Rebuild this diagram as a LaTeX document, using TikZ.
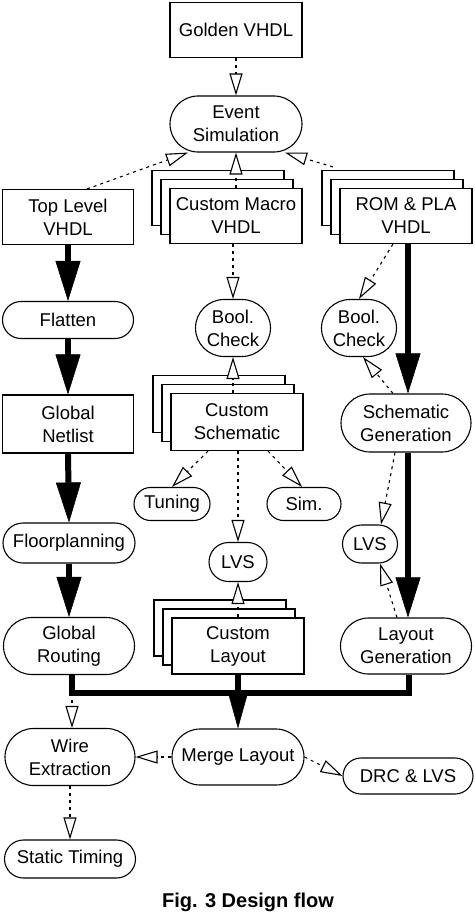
\documentclass[tikz,border=0pt]{standalone}
\usepackage{fontspec}
\setmainfont{Liberation Sans}
\usetikzlibrary{arrows.meta,shadows,shapes.misc}
\begin{document}
\begin{tikzpicture}[x=1pt,y=-1pt, line width=1.1pt, font=\fontsize{18.5}{23}\selectfont,
 box/.style={draw, fill=white, rectangle, inner sep=0pt, align=center, minimum width=132pt, minimum height=56pt},
 stack/.style={box, general shadow={draw, fill=white, shadow xshift=-18pt, shadow yshift=18pt}, general shadow={draw, fill=white, shadow xshift=-9pt, shadow yshift=9pt}},
 pill/.style={draw, fill=white, rounded rectangle, inner sep=0pt, align=center},
 dflow/.style={dash pattern=on 3pt off 4pt, -{Triangle[length=22pt,width=13pt,fill=white,line width=1.1pt]}},
 tflow/.style={line width=6pt, -{Triangle[length=40pt,width=25pt,line width=0.5pt]}},
 bus/.style={line width=6pt, line join=miter},
]
\useasboundingbox (0,0) rectangle (474,915);
% nodes
\node[box, minimum height=55pt] (golden) at (236,30) {Golden VHDL};
\node[pill, minimum width=132pt, minimum height=56pt] (event) at (236,124) {Event\\Simulation};
\node[box, minimum width=131pt, minimum height=55pt] (top) at (68,217) {Top Level\\VHDL};
\node[stack, minimum height=55pt] (cmacro) at (236,216) {Custom Macro\\VHDL};
\node[stack, minimum height=55pt] (rom) at (406,216) {ROM \& PLA\\VHDL};
\node[pill, minimum width=131pt, minimum height=37pt] (flatten) at (68,320) {Flatten};
\node[pill, minimum width=75pt, minimum height=57pt] (bool1) at (233,328) {Bool.\\Check};
\node[pill, minimum width=75pt, minimum height=57pt] (bool2) at (359,328) {Bool.\\Check};
\node[box, minimum width=131pt, minimum height=58pt] (netlist) at (68,424) {Global\\Netlist};
\node[stack, minimum height=57pt] (cschem) at (237,422) {Custom\\Schematic};
\node[pill, minimum width=130pt, minimum height=58pt] (schgen) at (406,423) {Schematic\\Generation};
\node[pill, minimum width=76pt, minimum height=33pt] (tuning) at (172,504) {Tuning};
\node[pill, minimum width=74pt, minimum height=33pt] (sim) at (304,504) {Sim.};
\node[pill, minimum width=132pt, minimum height=40pt] (floor) at (69,543) {Floorplanning};
\node[pill, minimum width=58pt, minimum height=39pt] (lvs1) at (238,562) {LVS};
\node[pill, minimum width=55pt, minimum height=38pt] (lvs2) at (370,544) {LVS};
\node[pill, minimum width=131pt, minimum height=57pt] (grout) at (69,646) {Global\\Routing};
\node[stack, minimum height=56pt] (clayout) at (238,646) {Custom\\Layout};
\node[pill, minimum width=131pt, minimum height=56pt] (laygen) at (406,646) {Layout\\Generation};
\node[pill, minimum width=130pt, minimum height=57pt] (wire) at (70,757) {Wire\\Extraction};
\node[pill, minimum width=132pt, minimum height=56pt] (merge) at (238,757) {Merge Layout};
\node[pill, minimum width=130pt, minimum height=36pt] (drc) at (408,776) {DRC \& LVS};
\node[pill, minimum width=131pt, minimum height=38pt] (static) at (70,859) {Static Timing};
\node[font=\bfseries\fontsize{20}{24}\selectfont] (cap) at (248,902) {Fig. 3 Design flow};
% dashed flows
\draw[dflow] (golden.south) -- (event.north);
\draw[dflow] ([xshift=19pt]top.north) -- ([xshift=-48pt]event.south);
\draw[dflow] (cmacro.north) -- (event.south);
\draw[dflow] ([shift={(-73,-21)}]rom.north) -- ([xshift=49pt]event.south);
\draw[dflow] (cmacro.south -| bool1.north) -- (bool1.north);
\draw[dflow] (cschem.north -| bool1.south) -- (bool1.south);
\draw[dflow] ([xshift=-29pt]cschem.south) -- (tuning.north);
\draw[dflow] ([xshift=31pt]cschem.south) -- ([xshift=-2pt]sim.north);
\draw[dflow] (cschem.south -| lvs1.north) -- (lvs1.north);
\draw[dflow] (clayout.north -| lvs1.south) -- (lvs1.south);
\draw[dflow] ([xshift=-13pt]rom.south) -- (bool2.north);
\draw[dflow] ([xshift=-13pt]schgen.north) -- ([xshift=4pt]bool2.south);
\draw[dflow] ([xshift=-11pt]schgen.south) -- ([xshift=11pt]lvs2.north);
\draw[dflow] ([xshift=-9pt]laygen.north) -- ([xshift=10pt]lvs2.south);
\draw[dflow] (wire.south) -- (static.north);
\draw[dflow] (merge.west) -- (wire.east);
\draw[dflow] (merge.east) -- (drc.west);
% thick flows
\draw[tflow] (top.south) -- (flatten.north);
\draw[tflow] (flatten.south) -- (netlist.north);
\draw[tflow] (netlist.south) -- (floor.north);
\draw[tflow] (floor.south) -- (grout.north);
\draw[tflow] ([xshift=2pt]rom.south) -- ([xshift=2pt]schgen.north);
\draw[tflow] ([xshift=2pt]schgen.south) -- ([xshift=2pt]laygen.north);
\coordinate (busL) at (72,693);
\coordinate (busR) at (409,693);
\draw[bus] (grout.south -| busL) -- (busL) -- (busR) -- (laygen.south -| busR);
\draw[tflow, -{Triangle[length=36pt,width=20pt,line width=0.5pt]}] (clayout.south) -- (merge.north);
\draw[dflow] (busL) -- (busL |- wire.north);
\end{tikzpicture}
\end{document}
